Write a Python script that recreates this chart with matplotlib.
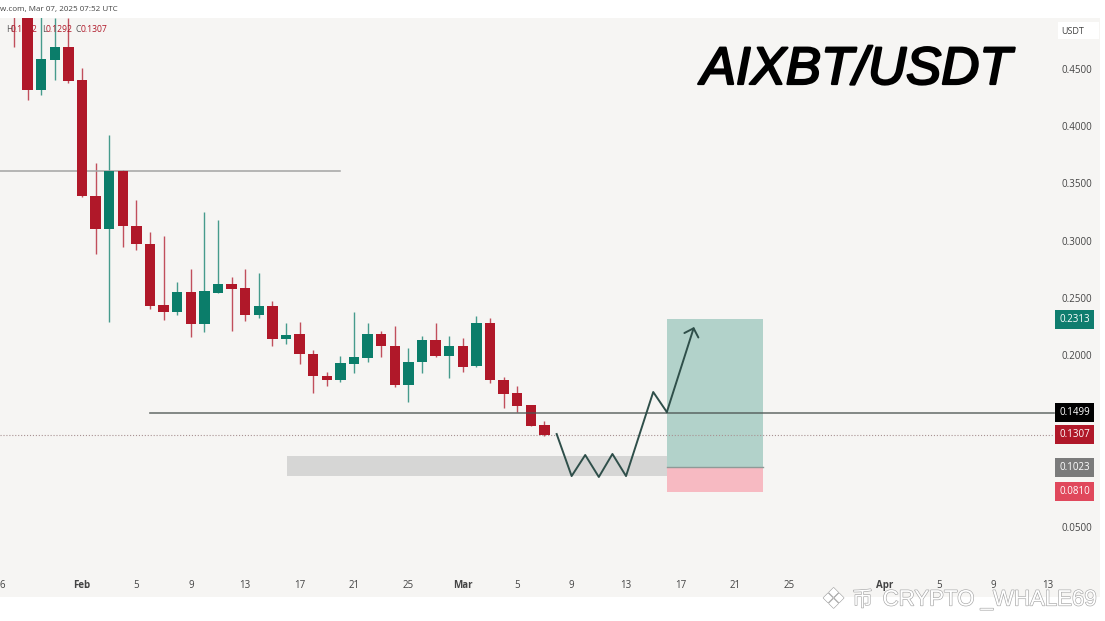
import matplotlib as mpl
mpl.use('Agg')
import matplotlib.pyplot as pyplot
import matplotlib.patheffects as path_effects
from matplotlib.patches import Rectangle

# daily candles, day 0 is Feb 1
days = list(range(-5, 35))
opens = [.56, .52, .4317, .4577, .4690, .4402, .3390, .3102, .3608, .3128, .2971, .2438, .2377, .2552, .2272,
         .2543, .2621, .2586, .2351, .2429, .2141, .2185, .2010, .1818, .1783, .1923, .1975, .2185, .2080, .1740,
         .1940, .2133, .1993, .2080, .1906, .2281, .1783, .1670, .1565, .1390]
closes = [.52, .4317, .4587, .4690, .4394, .3390, .3102, .3608, .3128, .2971, .2429, .2377, .2552, .2272, .2560,
          .2621, .2578, .2351, .2429, .2141, .2176, .2010, .1818, .1783, .1932, .1984, .2185, .2080, .1740, .1940,
          .2133, .1993, .2080, .1897, .2281, .1783, .1661, .1556, .1382, .1307]
highs = [.57, .54, .50, .4945, .4945, .4507, .3678, .3922, .3620, .3355, .3075, .3040, .2639, .2752, .3250,
         .3180, .2683, .2752, .2717, .2473, .2281, .2290, .2045, .1853, .1993, .2377, .2281, .2211, .2255, .2063,
         .2167, .2281, .2167, .2150, .2342, .2325, .1810, .1731, .1565, .1425]
lows = [.4690, .4229, .4271, .4402, .4376, .3381, .2883, .2290, .2944, .2918, .2403, .2307, .2351, .2159, .2202,
        .2543, .2211, .2298, .2325, .2080, .2098, .1923, .1670, .1731, .1766, .1844, .1940, .1984, .1722, .1591,
        .1844, .1984, .1801, .1853, .1897, .1757, .1539, .1504, .1382, .1292]

price_ticks = [.05, .20, .25, .30, .35, .40, .45]
date_ticks = [-5.9, 0, 4, 8, 12, 16, 20, 24, 28, 32, 36, 40, 44, 48, 52, 59, 63, 67, 71]
date_labels = ['6', 'Feb', '5', '9', '13', '17', '21', '25', 'Mar', '5', '9', '13', '17', '21', '25', 'Apr', '5', '9', '13']
bold_labels = ['Feb', 'Mar', 'Apr']

# hand drawn path and the levels of the trade setup
path_days = [34.9, 36, 37, 38, 39, 40, 42, 43]
path_prices = [.1312, .0945, .1129, .0937, .1138, .0945, .1679, .1504]
arrow_tip = (45, .2247)
level_old = .3608
level_line = .1499
last_price = .1307
target = .2313
entry = .1023
stop = .0810
zone_top = .112
zone_bottom = .0945
price_tags = [(target, '0.2313', '#0f7d6e'), (level_line, '0.1499', '#000000'), (last_price, '0.1307', '#b01829'),
              (entry, '0.1023', '#7b7b7b'), (stop, '0.0810', '#e0485c')]

GREEN = '#0b7d6a'
RED = '#b01829'
BG = '#f6f5f3'
FONT = 'Open Sans'

figure = pyplot.figure(figsize=(11.05, 6.21), dpi=100, facecolor='white')
ax = figure.add_axes([0, 24 / 621, 1100 / 1105, 579 / 621], facecolor=BG)
ax.set_xlim(-6.03, 74.85)
ax.set_ylim(-.0111, .4945)
for side in ['left', 'top', 'right', 'bottom']:
    ax.spines[side].set_visible(False)

# setup boxes go under the candles
ax.add_patch(Rectangle((15.07, zone_bottom), 27.93, zone_top - zone_bottom, color='#d6d6d5', lw=0, zorder=1))
ax.add_patch(Rectangle((43, entry), 7.07, target - entry, color='#b2d2ca', lw=0, zorder=1))
ax.add_patch(Rectangle((43, stop), 7.07, entry - stop, color='#f7bac2', lw=0, zorder=1))
ax.plot([43, 50.07], [entry, entry], color='#8f9a97', lw=1, zorder=1.5)

for day, o, c, h, l in zip(days, opens, closes, highs, lows):
    color = GREEN if c >= o else RED
    ax.vlines(day, l, h, color=color, lw=1, alpha=.75, zorder=2)
    ax.bar(day, abs(c - o), bottom=min(o, c), width=.76, color=color, zorder=3)

ax.plot([-6.03, 19.0], [level_old, level_old], color='#a3a3a3', lw=1.1, zorder=2)
ax.plot([5, 71.5], [level_line, level_line], color='#4d5552', lw=1.2, alpha=.8, zorder=4)
ax.plot([-6.03, 71.5], [last_price, last_price], color='#a89292', lw=.8, ls=':', zorder=1.5)

ax.plot(path_days, path_prices, color='#2f4f4a', lw=1.4, zorder=5)
ax.annotate('', xy=arrow_tip, xytext=(path_days[-1], path_prices[-1]), zorder=5,
            arrowprops=dict(arrowstyle='->,head_length=0.33,head_width=0.33', color='#2f4f4a', lw=1.4,
                            mutation_scale=16, shrinkA=0, shrinkB=0))

# tick labels sit inside the panel, as on the trading screen
ax.set_xticks(date_ticks)
ax.set_xticklabels(date_labels, fontsize=7, color='#444444', family=FONT)
ax.tick_params(axis='x', length=0, pad=-12)
for label in ax.get_xticklabels():
    if label.get_text() in bold_labels:
        label.set_fontweight('bold')
ax.yaxis.tick_right()
ax.set_yticks(price_ticks)
ax.set_yticklabels(['{:.4f}'.format(p) for p in price_ticks], fontsize=7, color='#444444', family=FONT)
ax.tick_params(axis='y', length=0, pad=-28)

tag_x = 1074.5 / 1100
tag_transform = ax.get_yaxis_transform()
for price, text, color in price_tags:
    ax.text(tag_x, price, text, transform=tag_transform, ha='center', va='center', fontsize=7, color='white',
            family=FONT, zorder=6, bbox=dict(boxstyle='square,pad=0.4', fc=color, ec='none'))

ax.add_patch(Rectangle((1058 / 1100, 1 - 21 / 579), 41 / 1100, 17 / 579, transform=ax.transAxes, color='white', lw=0))
ax.text(1073 / 1100, 1 - 13 / 579, 'USDT', transform=ax.transAxes, ha='center', va='center', fontsize=6.5,
        color='#444444', family=FONT)

figure.text(856 / 1105, 1 - 70 / 621, 'AIXBT/USDT', ha='center', va='center', fontsize=38, style='italic',
            color='black', family='Liberation Sans',
            path_effects=[path_effects.withStroke(linewidth=1.6, foreground='black')])

figure.text(0, 1 - 10 / 621, 'w.com, Mar 07, 2025 07:52 UTC', ha='left', va='center', fontsize=5.8, color='#444444',
            family=FONT)
for px, text, color in [(6, 'H', '#555555'), (10.5, '0.1362', RED), (42, 'L', '#555555'), (45.5, '0.1292', RED),
                        (76, 'C', '#555555'), (80.5, '0.1307', RED)]:
    figure.text(px / 1105, 1 - 29 / 621, text, ha='left', va='center', fontsize=6.2, color=color, family=FONT,
                zorder=10)

# outlined watermark across the bottom edge, kept under the date labels
outline = [path_effects.withStroke(linewidth=.9, foreground='#a6a6a6')]
for px, text, size, family in [(1097, 'CRYPTO _WHALE69', 16, 'Liberation Sans'),
                               (873, '\u5e01', 15, 'Noto Sans CJK SC'),
                               (846, '\u2756', 20, 'DejaVu Sans')]:
    ax.text(px / 1105, 1 - 600 / 621, text, transform=figure.transFigure, ha='right', va='center', fontsize=size,
            color='white', family=family, path_effects=outline, zorder=.5, clip_on=False)

figure.savefig('out.png', dpi=100)
